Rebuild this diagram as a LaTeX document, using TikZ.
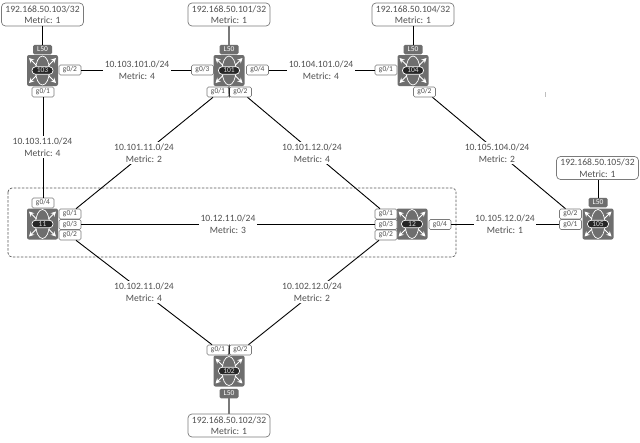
\documentclass[tikz,border=0pt]{standalone}
\usepackage{fontspec}
\setmainfont{Carlito}
\usetikzlibrary{arrows.meta}
\definecolor{rtr}{HTML}{6E6E6E}
\definecolor{txt}{HTML}{505050}
\definecolor{edgec}{HTML}{7A7A7A}
\tikzset{
  x=1pt,y=-1pt,
  routerbox/.style={fill=rtr,rounded corners=2pt,minimum width=31pt,minimum height=31pt,inner sep=0pt},
  lobox/.style={fill=rtr,rounded corners=1.5pt,minimum width=19pt,minimum height=9.5pt,inner sep=0pt,text=white,font=\fontsize{7.5}{8}\selectfont},
  portbox/.style={draw=edgec,fill=white,rounded corners=1.5pt,line width=.6pt,minimum width=22pt,minimum height=10pt,inner sep=0pt,text=txt,font=\fontsize{7.5}{8}\selectfont},
  netbox/.style={draw=edgec,fill=white,rounded corners=4pt,line width=.7pt,minimum width=82pt,minimum height=23pt,inner sep=0pt,text=txt,align=center,font=\fontsize{9.6}{11.5}\selectfont},
  linklabel/.style={fill=white,inner sep=1.5pt,text=txt,align=center,font=\fontsize{9.6}{11.5}\selectfont},
  linkline/.style={draw=black,line width=.9pt},
  stubline/.style={draw=edgec,line width=1.3pt},
  zonebox/.style={draw=black!65,dash pattern=on 2.5pt off 1.5pt,rounded corners=4pt,line width=.7pt},
  spokeline/.style={draw=white,line width=.9pt,-{Stealth[length=5pt,width=5pt]}},
  pillbox/.style={draw=white,fill=black!85,rounded corners=3.5pt,line width=.7pt,minimum width=21pt,minimum height=7.5pt,inner sep=0pt,text=white!85!black,font=\fontsize{7.5}{8}\selectfont},
  straymark/.style={draw=black!25,line width=1pt},
}
\newcommand{\router}[4]{%
  \node[routerbox] (#1) at (#2,#3) {};
  \draw[white,line width=.7pt] (#2,#3) ellipse [x radius=7,y radius=14.5];
  \draw[spokeline] (#2-6,#3-5) -- (#2-13.5,#3-12.5);
  \draw[spokeline] (#2+6,#3-5) -- (#2+13.5,#3-12.5);
  \draw[spokeline] (#2-6,#3+5) -- (#2-13.5,#3+12.5);
  \draw[spokeline] (#2+6,#3+5) -- (#2+13.5,#3+12.5);
  \node[pillbox] (#1p) at (#2,#3) {#4};
}
\begin{document}
\begin{tikzpicture}
\useasboundingbox (0,0) rectangle (640,442);
\fill[white] (0,0) rectangle (640,442);
% zone
\draw[zonebox] (8,188) rectangle (456,257);
% stray mark
\coordinate (m1) at (545,92);
\coordinate (m2) at (545,97);
\draw[straymark] (m1) -- (m2);
% routers
\router{r103}{42.5}{70.5}{103}
\router{r101}{229}{70.5}{101}
\router{r104}{413}{70.5}{104}
\router{r11}{42.5}{224}{11}
\router{r12}{412}{224}{12}
\router{r105}{598}{224}{105}
\router{r102}{229}{371}{102}
% loopbacks
\node[lobox] (l103) at (42.5,49.5) {L50};
\node[lobox] (l101) at (229,49.5) {L50};
\node[lobox] (l104) at (413,49.5) {L50};
\node[lobox] (l105) at (598,202.5) {L50};
\node[lobox] (l102) at (229,393.5) {L50};
% prefix boxes
\node[netbox] (n103) at (42.5,14.5) {192.168.50.103/32\\Metric: 1};
\node[netbox] (n101) at (229,14.5) {192.168.50.101/32\\Metric: 1};
\node[netbox] (n104) at (413,14.5) {192.168.50.104/32\\Metric: 1};
\node[netbox] (n105) at (597.5,168) {192.168.50.105/32\\Metric: 1};
\node[netbox] (n102) at (229,425.5) {192.168.50.102/32\\Metric: 1};
% ports
\node[portbox] (a1) at (70,70) {g0/2};
\node[portbox] (a2) at (43,92) {g0/1};
\node[portbox] (b1) at (202.5,70) {g0/3};
\node[portbox] (b2) at (257.5,70) {g0/4};
\node[portbox] (b3) at (218,92) {g0/1};
\node[portbox] (b4) at (240.5,92) {g0/2};
\node[portbox] (c1) at (386,70) {g0/1};
\node[portbox] (c2) at (424.5,92) {g0/2};
\node[portbox] (d1) at (43,203) {g0/4};
\node[portbox] (d2) at (70,214) {g0/1};
\node[portbox] (d3) at (70,224.5) {g0/3};
\node[portbox] (d4) at (70,235) {g0/2};
\node[portbox] (e1) at (386,214) {g0/1};
\node[portbox] (e2) at (386,224.5) {g0/3};
\node[portbox] (e3) at (386,235) {g0/2};
\node[portbox] (e4) at (440,224.5) {g0/4};
\node[portbox] (f1) at (570.5,214) {g0/2};
\node[portbox] (f2) at (570.5,224.5) {g0/1};
\node[portbox] (g1) at (218,350) {g0/1};
\node[portbox] (g2) at (240.5,350) {g0/2};
% stubs
\draw[linkline] (n103) -- (l103);
\draw[stubline] (n101) -- (l101);
\draw[linkline] (n104) -- (l104);
\draw[linkline] (n105.south -| l105) -- (l105);
\draw[stubline] (n102) -- (l102);
\draw[linkline] (r101.south) -- (b3.south east);
\draw[linkline] (r102.north) -- (g1.north east);
% links
\draw[linkline] (a1) -- (b1);
\draw[linkline] (b2) -- (c1);
\draw[linkline] (a2) -- (d1);
\draw[linkline] ([xshift=-5pt]b3.south) -- ([xshift=6pt]d2.north);
\draw[linkline] ([xshift=7pt]b4.south) -- ([xshift=-6pt]e1.north);
\draw[linkline] ([xshift=8pt]c2.south) -- ([xshift=-5pt]f1.north);
\draw[linkline] (d3) -- (e2);
\draw[linkline] (e4) -- (f2);
\draw[linkline] ([xshift=6pt]d4.south) -- ([xshift=-6pt]g1.north);
\draw[linkline] ([xshift=-7pt]e3.south) -- ([xshift=8pt]g2.north);
% link labels
\node[linklabel] (t1) at (137,70) {10.103.101.0/24\\Metric: 4};
\node[linklabel] (t2) at (321,70) {10.104.101.0/24\\Metric: 4};
\node[linklabel] (t3) at (42.5,147) {10.103.11.0/24\\Metric: 4};
\node[linklabel] (t4) at (144,153) {10.101.11.0/24\\Metric: 2};
\node[linklabel] (t5) at (312,153) {10.101.12.0/24\\Metric: 4};
\node[linklabel] (t6) at (497,153) {10.105.104.0/24\\Metric: 2};
\node[linklabel] (t7) at (228,224) {10.12.11.0/24\\Metric: 3};
\node[linklabel] (t8) at (505,224) {10.105.12.0/24\\Metric: 1};
\node[linklabel] (t9) at (144,292) {10.102.11.0/24\\Metric: 4};
\node[linklabel] (t10) at (312,292) {10.102.12.0/24\\Metric: 2};
\end{tikzpicture}
\end{document}
